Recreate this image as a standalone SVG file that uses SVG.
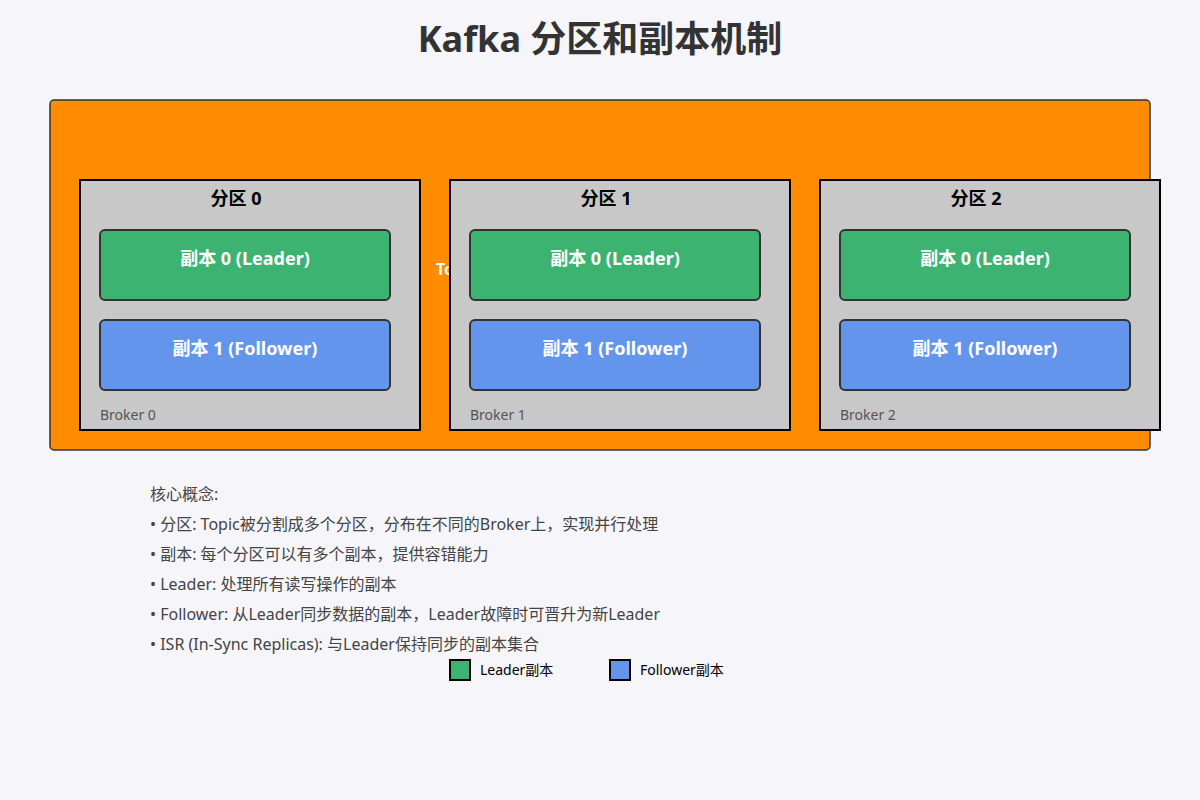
<svg xmlns="http://www.w3.org/2000/svg" width="1200" height="800" viewBox="0 0 1200 800">
<style>
text{font-family:"Noto Sans","Noto Sans CJK SC",sans-serif}
.title{font-size:36px;font-weight:bold;fill:#333}
.part{fill:#c8c8c8;stroke:#000;stroke-width:2}
.ptitle{font-size:18px;font-weight:bold;fill:#000;text-anchor:middle}
.leader{fill:#3cb371;stroke:#333;stroke-width:2}
.follower{fill:#6495ed;stroke:#333;stroke-width:2}
.rtext{font-size:18px;font-weight:bold;fill:#fff;text-anchor:middle}
.broker{font-size:14px;fill:#555}
.info{font-size:16px;fill:#444}
.leg{font-size:14px;fill:#000}
</style>
<rect width="1200" height="800" fill="#f5f5fa"/>
<text class="title" x="600" y="52" text-anchor="middle">Kafka 分区和副本机制</text>
<g id="topic">
<rect x="50" y="100" width="1100" height="350" rx="4" fill="#ff8c00" stroke="#333" stroke-width="1.5"/>
<text x="436" y="275" font-size="16" font-weight="bold" fill="#fff">Topic</text>
</g>
<g id="partition0">
<rect class="part" x="80" y="180" width="340" height="250"/>
<text class="ptitle" x="236" y="205">分区 0</text>
<rect class="leader" x="100" y="230" width="290" height="70" rx="5"/>
<text class="rtext" x="245" y="265">副本 0 (Leader)</text>
<rect class="follower" x="100" y="320" width="290" height="70" rx="5"/>
<text class="rtext" x="245" y="355">副本 1 (Follower)</text>
<text class="broker" x="100" y="420">Broker 0</text>
</g>
<g id="partition1">
<rect class="part" x="450" y="180" width="340" height="250"/>
<text class="ptitle" x="606" y="205">分区 1</text>
<rect class="leader" x="470" y="230" width="290" height="70" rx="5"/>
<text class="rtext" x="615" y="265">副本 0 (Leader)</text>
<rect class="follower" x="470" y="320" width="290" height="70" rx="5"/>
<text class="rtext" x="615" y="355">副本 1 (Follower)</text>
<text class="broker" x="470" y="420">Broker 1</text>
</g>
<g id="partition2">
<rect class="part" x="820" y="180" width="340" height="250"/>
<text class="ptitle" x="976" y="205">分区 2</text>
<rect class="leader" x="840" y="230" width="290" height="70" rx="5"/>
<text class="rtext" x="985" y="265">副本 0 (Leader)</text>
<rect class="follower" x="840" y="320" width="290" height="70" rx="5"/>
<text class="rtext" x="985" y="355">副本 1 (Follower)</text>
<text class="broker" x="840" y="420">Broker 2</text>
</g>
<g id="connectors"></g>
<g id="notes">
<text class="info" x="150" y="500">核心概念:</text>
<text class="info" x="150" y="530">• 分区: Topic被分割成多个分区，分布在不同的Broker上，实现并行处理</text>
<text class="info" x="150" y="560">• 副本: 每个分区可以有多个副本，提供容错能力</text>
<text class="info" x="150" y="590">• Leader: 处理所有读写操作的副本</text>
<text class="info" x="150" y="620">• Follower: 从Leader同步数据的副本，Leader故障时可晋升为新Leader</text>
<text class="info" x="150" y="650">• ISR (In-Sync Replicas): 与Leader保持同步的副本集合</text>
</g>
<g id="legend">
<rect x="450" y="660" width="20" height="20" fill="#3cb371" stroke="#000" stroke-width="2"/>
<text class="leg" x="480" y="675">Leader副本</text>
<rect x="610" y="660" width="20" height="20" fill="#6495ed" stroke="#000" stroke-width="2"/>
<text class="leg" x="640" y="675">Follower副本</text>
</g>
</svg>
